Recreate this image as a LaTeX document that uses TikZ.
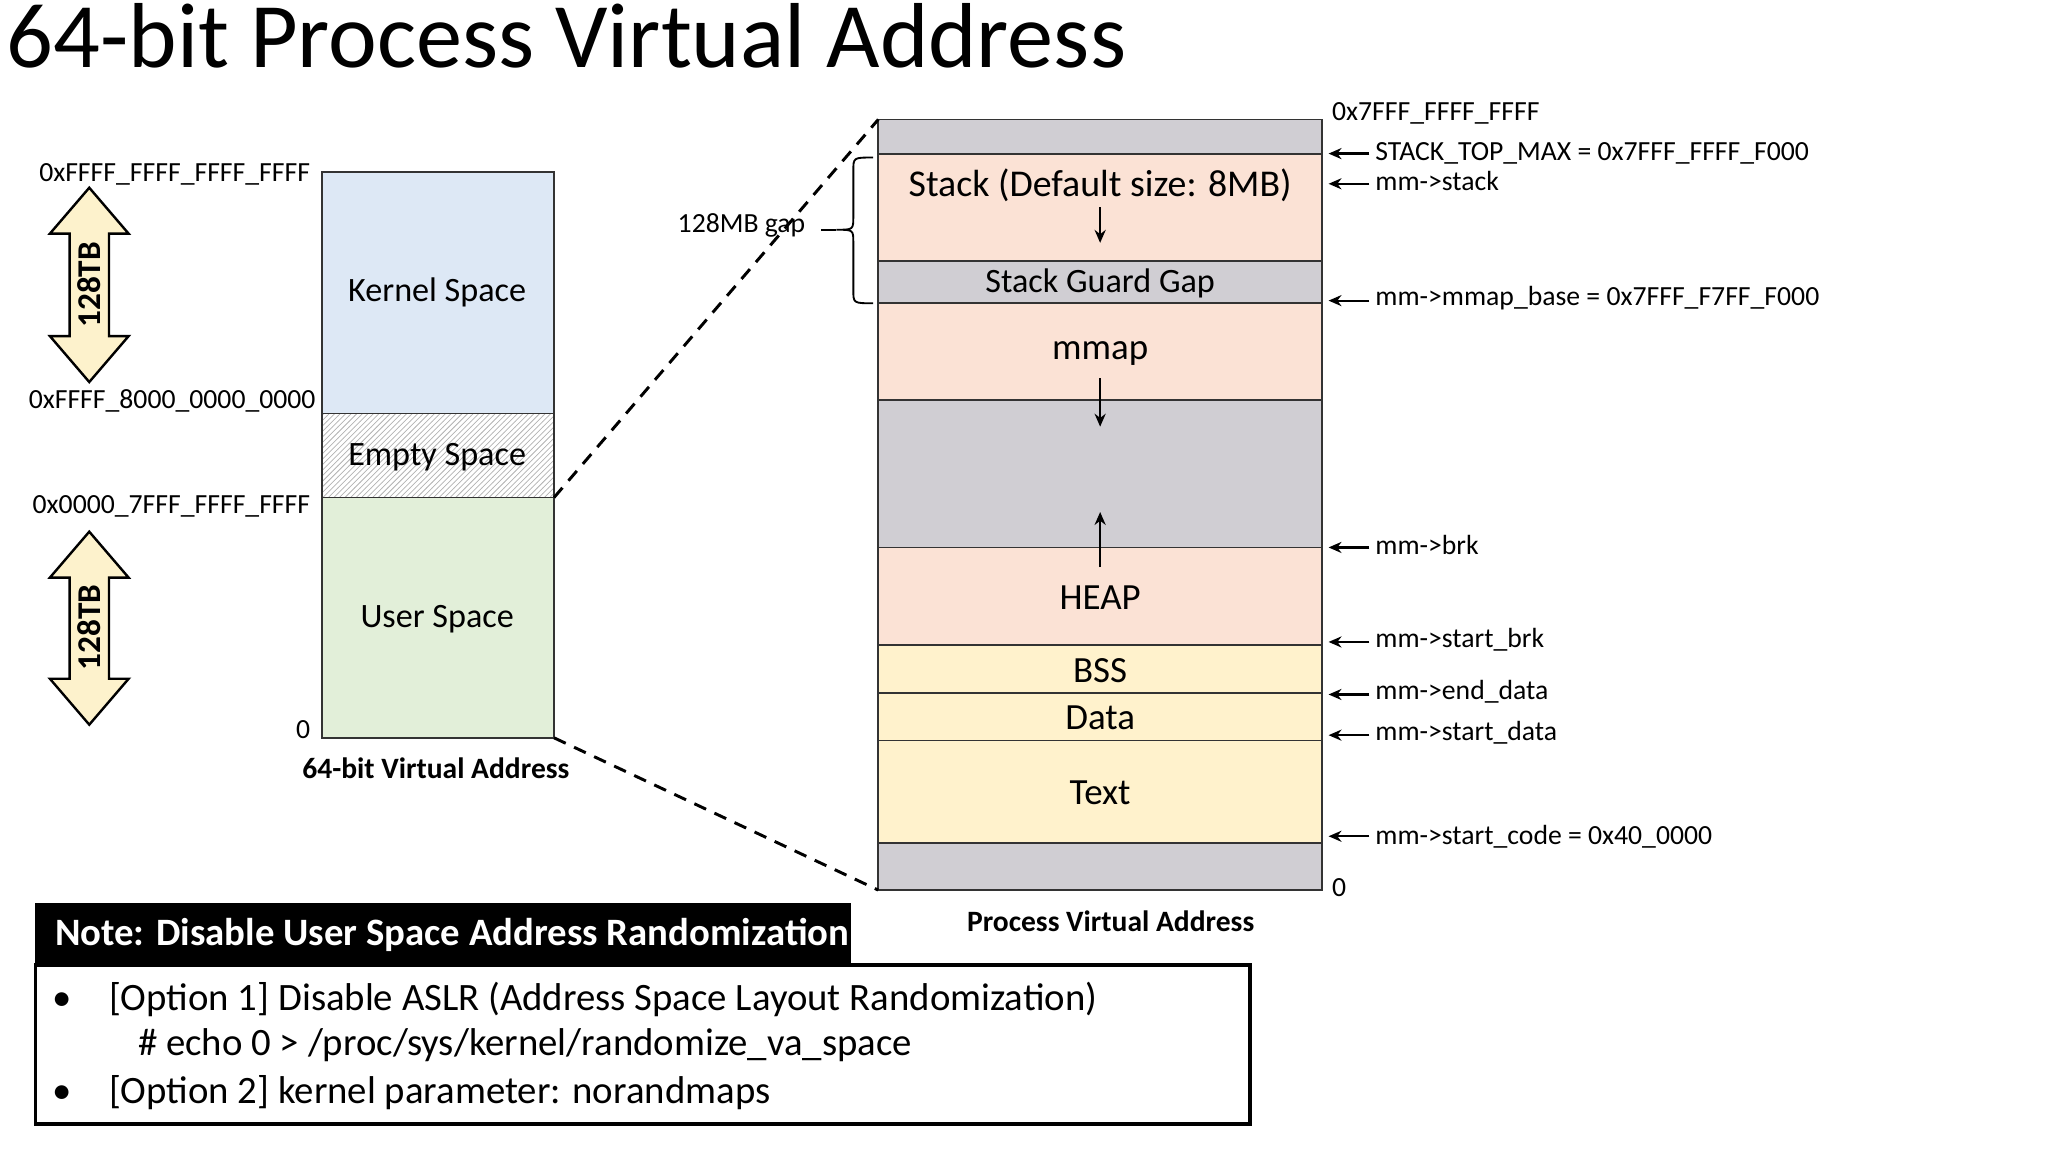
\documentclass[tikz,border=0pt]{standalone}
\usepackage{fontspec}
\setmainfont{Carlito}
\usetikzlibrary{patterns,decorations.pathreplacing,arrows.meta}
\newcommand{\fs}[1]{\fontsize{#1pt}{#1pt}\selectfont}
\begin{document}
\begin{tikzpicture}[x=0.025cm,y=-0.025cm,
  seg/.style={draw=black!80,line width=1pt},
  lab/.style={font=\fs{18.5}},
  addr/.style={font=\fs{15},inner sep=1pt},
  ptr/.style={-{Stealth[length=7pt,width=6pt]},line width=1.2pt},
  inarr/.style={-{Stealth[length=7pt,width=6pt]},line width=1.2pt},
  dsh/.style={line width=1.6pt,dash pattern=on 7pt off 5pt}]
\useasboundingbox (0,0) rectangle (1560,878);
\node[anchor=north west,inner sep=0,font=\fs{50}] (title) at (5,2) {64-bit Process Virtual Address};
% left
\draw[seg,fill={rgb,255:red,221;green,232;blue,245}] (245,131) rectangle (422,315);
\node[lab] (ks) at (333,223) {Kernel Space};
\draw[seg,pattern=north east lines,pattern color=black!30] (245,315) rectangle (422,379);
\node[lab] (es) at (333,348) {Empty Space};
\draw[seg,fill={rgb,255:red,226;green,239;blue,217}] (245,379) rectangle (422,562);
\node[lab] (us) at (333,472) {User Space};
\coordinate (lt) at (422,379); \coordinate (lb) at (422,562);
\node[addr,anchor=east] (a1) at (238,133) {0xFFFF\_FFFF\_FFFF\_FFFF};
\node[addr,anchor=east] (a2) at (242,305) {0xFFFF\_8000\_0000\_0000};
\node[addr,anchor=east] (a3) at (238,386) {0x0000\_7FFF\_FFFF\_FFFF};
\node[addr,anchor=east] (a4) at (238,556) {0};
\node[font=\bfseries\fs{16}] (lv) at (332,585) {64-bit Virtual Address};
\foreach \t/\b in {143/291,405/552}{
 \draw[line width=1.3pt,fill={rgb,255:red,253;green,242;blue,204}]
  (68,\t) -- (98,\t+35) -- (83,\t+35) -- (83,\b-35) -- (98,\b-35) -- (68,\b) -- (38,\b-35) -- (53,\b-35) -- (53,\t+35) -- (38,\t+35) -- cycle;
}
\node[rotate=90,font=\bfseries\fs{18}] (tb1) at (68,217) {128TB};
\node[rotate=90,font=\bfseries\fs{18}] (tb2) at (68,478) {128TB};
% right
\def\rx{669}\def\rX{1007}
\definecolor{gr}{RGB}{208,206,211}\definecolor{pe}{RGB}{251,226,213}\definecolor{ye}{RGB}{255,242,204}
\foreach \a/\b/\c in {91/117/gr,117/199/pe,199/231/gr,231/305/pe,305/417/gr,417/491/pe,491/528/ye,528/564/ye,564/642/ye,642/678/gr}{
 \draw[seg,fill=\c] (\rx,\a) rectangle (\rX,\b);}
\coordinate (rt) at (669,91); \coordinate (rb) at (669,678);
\node[font=\fs{20.5}] (st) at (838,141) {Stack (Default size: 8MB)};
\node[lab] (sg) at (838,216) {Stack Guard Gap};
\node[font=\fs{20}] (mm) at (838,269) {mmap};
\node[font=\fs{20}] (hp) at (838,455) {HEAP};
\node[font=\fs{20}] (bss) at (838,511) {BSS};
\node[font=\fs{20}] (dt) at (838,547) {Data};
\node[font=\fs{20}] (tx) at (838,604) {Text};
\draw[inarr] (838,158) -- (838,185);
\draw[inarr] (838,288) -- (838,325);
\draw[inarr] (838,432) -- (838,390);
\node[font=\bfseries\fs{16}] (pv) at (846,702) {Process Virtual Address};
\node[addr,anchor=west] (r0) at (1013,86) {0x7FFF\_FFFF\_FFFF};
\node[addr,anchor=west] (rz) at (1013,676) {0};
\foreach \y/\ty/\txt in {117/117/{STACK\_TOP\_MAX = 0x7FFF\_FFFF\_F000},140/138/{mm->stack},229/227/{mm->mmap\_base = 0x7FFF\_F7FF\_F000},417/415/{mm->brk},489/487/{mm->start\_brk},529/527/{mm->end\_data},560/558/{mm->start\_data},637/637/{mm->start\_code = 0x40\_0000}}{
 \coordinate (e) at (1012,\y);
 \draw[ptr] (1043,\y) -- (e);
 \node[addr,anchor=west] at (1046,\ty) {\txt};
}
\draw[line width=1pt] (665,120) .. controls (650,120) .. (650,130) -- (650,165) .. controls (650,175) .. (637,175) .. controls (650,175) .. (650,185) -- (650,221) .. controls (650,231) .. (665,231);
\draw[line width=1pt] (637,175) -- (625,175);
\node[addr,anchor=east] (gap) at (615,172) {128MB gap};
\draw[dsh] (lt) -- (rt);
\draw[dsh] (lb) -- (rb);
% note
\fill[black] (27,688) rectangle (648,735);
\node[anchor=west,text=white,font=\bfseries\fs{21}] (nt) at (37,712) {Note: Disable User Space Address Randomization};
\draw[line width=2pt] (27,735) rectangle (952,856);
\node[anchor=west,font=\fs{21},inner sep=0] (b1) at (40,761) {•\hspace{20pt}[Option 1] Disable ASLR (Address Space Layout Randomization)};
\node[anchor=west,font=\fs{21},inner sep=0] (b2) at (105,796) {\# echo 0 > /proc/sys/kernel/randomize\_va\_space};
\node[anchor=west,font=\fs{21},inner sep=0] (b3) at (40,832) {•\hspace{20pt}[Option 2] kernel parameter: norandmaps};
\end{tikzpicture}
\end{document}
